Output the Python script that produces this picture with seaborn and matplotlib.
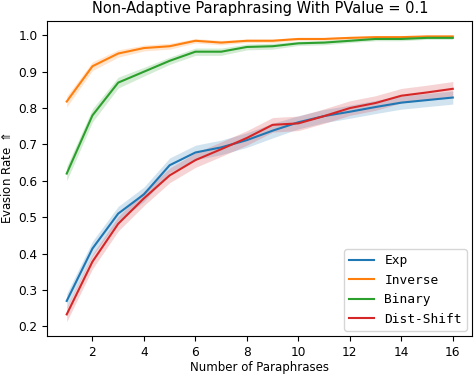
import matplotlib
matplotlib.use("Agg")
import matplotlib.pyplot as plt
import seaborn as sns
import pandas as pd

# number of paraphrases on the x axis
n_para = list(range(1, 17))

# mean evasion rate per watermark type
exp_mean     = [0.270, 0.414, 0.510, 0.563, 0.643, 0.678, 0.692, 0.712, 0.738, 0.761, 0.778, 0.790, 0.803, 0.815, 0.822, 0.829]
inverse_mean = [0.818, 0.915, 0.950, 0.965, 0.970, 0.985, 0.980, 0.985, 0.985, 0.990, 0.990, 0.993, 0.995, 0.995, 0.997, 0.997]
binary_mean  = [0.620, 0.780, 0.870, 0.900, 0.930, 0.955, 0.955, 0.968, 0.970, 0.978, 0.980, 0.985, 0.990, 0.990, 0.993, 0.993]
dist_mean    = [0.233, 0.378, 0.482, 0.552, 0.615, 0.657, 0.687, 0.718, 0.754, 0.758, 0.778, 0.800, 0.814, 0.834, 0.843, 0.853]

# half width of the shaded confidence band
exp_ci     = [0.020, 0.020, 0.020, 0.020, 0.020, 0.020, 0.020, 0.020, 0.020, 0.018, 0.018, 0.018, 0.018, 0.018, 0.018, 0.018]
inverse_ci = [0.015, 0.012, 0.010, 0.008, 0.008, 0.006, 0.006, 0.005, 0.005, 0.004, 0.004, 0.004, 0.003, 0.003, 0.003, 0.003]
binary_ci  = [0.020, 0.018, 0.015, 0.012, 0.010, 0.010, 0.010, 0.008, 0.008, 0.006, 0.006, 0.005, 0.005, 0.005, 0.004, 0.004]
dist_ci    = [0.020, 0.020, 0.020, 0.020, 0.020, 0.020, 0.020, 0.020, 0.020, 0.020, 0.020, 0.020, 0.020, 0.020, 0.020, 0.020]

labels = ["Exp", "Inverse", "Binary", "Dist-Shift"]
means  = [exp_mean, inverse_mean, binary_mean, dist_mean]
cis    = [exp_ci, inverse_ci, binary_ci, dist_ci]
colors = ["tab:blue", "tab:orange", "tab:green", "tab:red"]

rows = []
for lab, m in zip(labels, means):
    for x, y in zip(n_para, m):
        rows.append({"x": x, "y": y, "method": lab})
df = pd.DataFrame(rows)

fig = plt.figure(figsize=(4.74, 3.75), dpi=100)
ax = fig.add_axes([0.100, 0.104, 0.896, 0.840])

sns.lineplot(data=df, x="x", y="y", hue="method", palette=colors,
             hue_order=labels, ax=ax, linewidth=1.5)

# shaded bands
for m, c, col in zip(means, cis, colors):
    lo = [a - b for a, b in zip(m, c)]
    hi = [a + b for a, b in zip(m, c)]
    ax.fill_between(n_para, lo, hi, color=col, alpha=0.2, linewidth=0)

ax.set_title("Non-Adaptive Paraphrasing With PValue = 0.1", fontsize=10.5)
ax.set_xlabel("Number of Paraphrases", fontsize=8.5, labelpad=2)
ax.set_ylabel("Evasion Rate $\\Uparrow$", fontsize=8.5, labelpad=3)
ax.set_xticks([2, 4, 6, 8, 10, 12, 14, 16])
ax.tick_params(labelsize=8.7)
ax.legend(loc="lower right", prop={"family": "DejaVu Sans Mono", "size": 9.3},
          labelspacing=0.5, handlelength=1.9, borderaxespad=0.4)

fig.savefig("out.png", dpi=100)
